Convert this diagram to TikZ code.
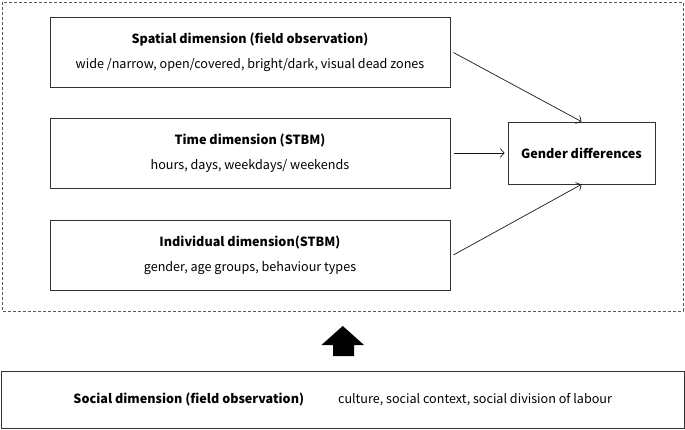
\documentclass[tikz,border=0pt]{standalone}
\usepackage{fontspec}
\usetikzlibrary{arrows.meta}
\setmainfont{Noto Sans CJK JP}
\begin{document}
\begin{tikzpicture}[x=1pt,y=-1pt,
  dimbox/.style={draw=black!80,line width=0.8pt,minimum width=400pt,minimum height=70pt,align=center,font=\fontsize{12.6}{25}\selectfont},
  link/.style={->,>={Straight Barb[length=4pt,width=9pt]},line width=0.7pt,black!90}]
\useasboundingbox (0,0) rectangle (685,430);
\draw[black!65,line width=0.8pt,dash pattern=on 3pt off 2pt] (2,2) rectangle (683,311);
\node[dimbox] (spatial) at (250,52.5) {\textbf{Spatial dimension (field observation)}\\wide /narrow, open/covered, bright/dark, visual dead zones};
\node[dimbox] (time) at (250,153) {\textbf{Time dimension (STBM)}\\hours, days, weekdays/ weekends};
\node[dimbox] (individual) at (250,255) {\textbf{Individual dimension(STBM)}\\gender, age groups, behaviour types};
\node[dimbox,minimum width=147pt,minimum height=62pt] (gender) at (581.5,153) {\textbf{Gender differences}};
\draw[link] ([xshift=3pt]spatial.east) -- (gender.north);
\draw[link] ([xshift=4pt]time.east) -- ([xshift=-3pt]gender.west);
\draw[link] ([xshift=3pt]individual.east) -- (gender.south);
\fill[black] (321.5,345) -- (342.75,326) -- (364,345) -- (354,345) -- (354,356) -- (333,356) -- (333,345) -- cycle;
\node[dimbox,minimum width=682.5pt,minimum height=57pt] (social) at (342.75,399.5) {\textbf{Social dimension (field observation)}\hspace{34pt}culture, social context, social division of labour};
\end{tikzpicture}
\end{document}
